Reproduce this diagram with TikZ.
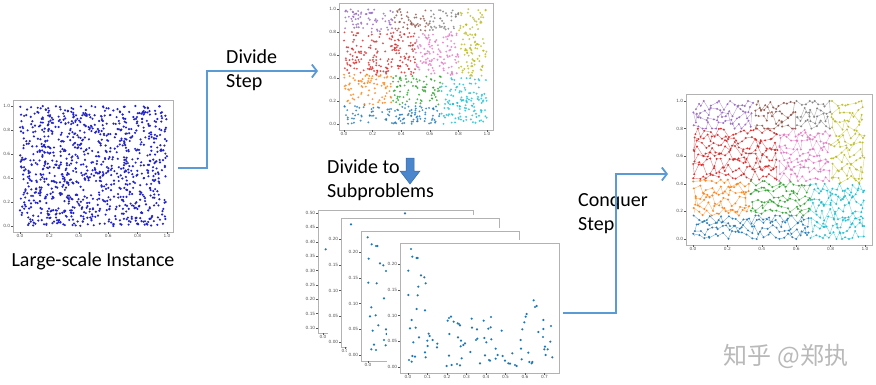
\documentclass[tikz,border=0pt]{standalone}
\usepackage{fontspec}
\setmainfont{Carlito}
\newfontfamily\tickfont{DejaVu Sans}
\newfontfamily\cjkfont{Noto Sans CJK SC}
\usetikzlibrary{arrows.meta}
\definecolor{flowblue}{RGB}{91,155,213}
\definecolor{blockblue}{RGB}{74,134,204}
\definecolor{blockedge}{RGB}{55,105,165}
\definecolor{framegray}{RGB}{178,178,178}
\definecolor{tickgray}{RGB}{85,85,85}
\definecolor{dotblue}{RGB}{35,35,200}
\definecolor{tabblue}{HTML}{1F77B4}
\definecolor{taborange}{HTML}{FF7F0E}
\definecolor{tabgreen}{HTML}{2CA02C}
\definecolor{tabred}{HTML}{D62728}
\definecolor{tabpurple}{HTML}{9467BD}
\definecolor{tabbrown}{HTML}{8C564B}
\definecolor{tabpink}{HTML}{E377C2}
\definecolor{tabgray}{HTML}{7F7F7F}
\definecolor{tabolive}{HTML}{BCBD22}
\definecolor{tabcyan}{HTML}{17BECF}
\definecolor{wmgray}{RGB}{185,185,185}

% dots of one cluster: color, x0, x1, y0, y1, count
\newcommand\clusterdots[6]{%
  \foreach \ii in {1,...,#6} {\fill[#1, fill opacity=0.8] ({#2+(#3-#2)*rnd},{#4+(#5-#4)*rnd}) circle (1.05pt);}}
% snake tour of one cluster: color, x0, x1, y0, y1, rows, points per row
\newcommand\clustertour[7]{%
  \draw[#1, line width=0.4pt, draw opacity=0.6] ({#2+0.01},{#4+0.5*(#5-#4)/#6})
   \foreach \ii in {1,...,#6} { \foreach \jj in {1,...,#7} {
     -- ({#2+(#3-#2)*(mod(\ii,2)*(\jj-1+rnd)+(1-mod(\ii,2))*(#7-\jj+rnd))/#7},{max(#4,min(#5,#4+(#5-#4)*(\ii-1.4+1.8*rnd)/#6))}) node[tourdot] (#1-\ii-\jj) {} } };}

\begin{document}
\begin{tikzpicture}[x=1pt,y=-1pt,
  plotframe/.style={draw=framegray, line width=0.8pt, inner sep=0pt, outer sep=0pt, rectangle},
  ticklab/.style={font=\tickfont\fontsize{4.3}{5}\selectfont, text=tickgray, inner sep=0.6pt},
  tickmark/.style={draw=tickgray, line width=0.35pt},
  lbl/.style={font=\fontsize{20}{24}\selectfont, align=left, inner sep=0pt},
  flow/.style={draw=flowblue, line width=1.8pt, -{Straight Barb[length=5pt,width=13pt]}},
  tourdot/.style={circle, fill, fill opacity=0.9, inner sep=0pt, minimum size=2.2pt},
  subdot/.style={fill=tabblue},
]
\useasboundingbox (0,0) rectangle (876,384);
\fill[white] (0,0) rectangle (876,384);

% ---------- left plot: large-scale instance ----------
\begin{scope}[shift={(20,226)}, x=147pt, y=120pt]
  \pgfmathsetseed{7}
  \foreach \i in {1,...,1000} {\fill[dotblue] ({rnd},{rnd}) circle (1.2pt);}
\end{scope}
\node[plotframe, minimum width=160pt, minimum height=132pt] (leftplot) at (93,166) {};
\foreach \v [count=\k] in {0.0,0.2,0.4,0.6,0.8,1.0} {
  \draw[tickmark] (13,{226-120*\v}) -- ++(-2,0) node[ticklab,anchor=east] (ly\k) {\v};
  \draw[tickmark] ({20+147*\v},232) -- ++(0,2) node[ticklab,anchor=north] (lx\k) {\v};
}
\node[lbl, anchor=base] (lbl1) at (93,266) {Large-scale Instance};

% ---------- top plot: divided ----------
\begin{scope}[shift={(344,124)}, x=143pt, y=115pt]
  \pgfmathsetseed{21}
  \clusterdots{tabblue}{0}{0.68}{0}{0.17}{116}
  \clusterdots{tabcyan}{0.68}{1}{0}{0.4}{128}
  \clusterdots{taborange}{0}{0.33}{0.17}{0.43}{86}
  \clusterdots{tabgreen}{0.33}{0.68}{0.17}{0.42}{84}
  \clusterdots{tabred}{0}{0.5}{0.43}{0.8}{185}
  \clusterdots{tabpink}{0.5}{0.8}{0.42}{0.8}{114}
  \clusterdots{tabolive}{0.8}{1}{0.4}{1}{110}
  \clusterdots{tabpurple}{0}{0.35}{0.8}{1}{70}
  \clusterdots{tabbrown}{0.35}{0.6}{0.8}{1}{50}
  \clusterdots{tabgray}{0.6}{0.8}{0.8}{1}{40}
\end{scope}
\node[plotframe, minimum width=154pt, minimum height=127pt] (topplot) at (416,66.5) {};
\foreach \v [count=\k] in {0.0,0.2,0.4,0.6,0.8,1.0} {
  \draw[tickmark] (339,{124-115*\v}) -- ++(-2,0) node[ticklab,anchor=east] (ty\k) {\v};
  \draw[tickmark] ({344+143*\v},130) -- ++(0,2) node[ticklab,anchor=north] (tx\k) {\v};
}

% ---------- right plot: conquered tours ----------
\begin{scope}[shift={(693,239)}, x=172pt, y=138pt]
  \pgfmathsetseed{5}
  \clustertour{tabblue}{0}{0.68}{0}{0.17}{4}{29}
  \clustertour{tabcyan}{0.68}{1}{0}{0.4}{8}{16}
  \clustertour{taborange}{0}{0.33}{0.17}{0.43}{6}{14}
  \clustertour{tabgreen}{0.33}{0.68}{0.17}{0.42}{6}{14}
  \clustertour{tabred}{0}{0.5}{0.43}{0.8}{8}{23}
  \clustertour{tabpink}{0.5}{0.8}{0.42}{0.8}{8}{14}
  \clustertour{tabolive}{0.8}{1}{0.4}{1}{12}{8}
  \clustertour{tabpurple}{0}{0.35}{0.8}{1}{4}{17}
  \clustertour{tabbrown}{0.35}{0.6}{0.8}{1}{4}{12}
  \clustertour{tabgray}{0.6}{0.8}{0.8}{1}{4}{10}
\end{scope}
\node[plotframe, minimum width=186pt, minimum height=151pt] (rightplot) at (779,169.5) {};
\foreach \v [count=\k] in {0.0,0.2,0.4,0.6,0.8,1.0} {
  \draw[tickmark] (686,{239-138*\v}) -- ++(-2,0) node[ticklab,anchor=east] (ry\k) {\v};
  \draw[tickmark] ({693+172*\v},245) -- ++(0,2) node[ticklab,anchor=north] (rx\k) {\v};
}

% ---------- stack of subproblems ----------
% sheet 1
\fill[white] (303,207) rectangle (476,345);
\node[plotframe, minimum width=155pt, minimum height=123pt] (sub1) at (395.5,271.5) {};
\foreach \v [count=\k] in {0.10,0.15,0.20,0.25,0.30,0.35,0.40,0.45,0.50} {
  \draw[tickmark] (318,{356.75-287.5*\v}) -- ++(-2,0) node[ticklab,anchor=east] (s1y\k) {\v};
}
\draw[tickmark] (323,333) -- ++(0,2) node[ticklab,anchor=north] (s1x1) {0.0};
\begin{scope}[shift={(290,200)}, x=0.3333pt, y=-0.3333pt]
  \foreach \p in {(107,148),(345,40)} {\fill[subdot] \p circle (1.2pt);}
\end{scope}
% sheet 2
\fill[white] (328,215) rectangle (502,359);
\node[plotframe, minimum width=158pt, minimum height=129pt] (sub2) at (420,282.5) {};
\foreach \v [count=\k] in {0.00,0.05,0.10,0.15,0.20} {
  \draw[tickmark] (341,{342-515*\v}) -- ++(-2,0) node[ticklab,anchor=east] (s2y\k) {\v};
}
\draw[tickmark] (345,347) -- ++(0,2) node[ticklab,anchor=north] (s2x1) {0.0};
\begin{scope}[shift={(290,200)}, x=0.3333pt, y=-0.3333pt]
  \foreach \p in {(183,73)} {\fill[subdot] \p circle (1.2pt);}
\end{scope}
% sheet 3
\fill[white] (347,228) rectangle (522,373);
\node[plotframe, minimum width=158pt, minimum height=130pt] (sub3) at (440,296) {};
\foreach \v [count=\k] in {0.00,0.05,0.10,0.15,0.20} {
  \draw[tickmark] (361,{355-515*\v}) -- ++(-2,0) node[ticklab,anchor=east] (s3y\k) {\v};
}
\draw[tickmark] (368,361) -- ++(0,2) node[ticklab,anchor=north] (s3x1) {0.0};
\begin{scope}[shift={(290,200)}, x=0.3333pt, y=-0.3333pt]
  \foreach \p in {(233,112),(245,133),(258,138),(262,138),(236,176),(270,190),(280,196),(288,213),(235,248),(260,250),(282,295),(244,322),(240,349),(257,346),(265,376),(248,392),(288,388),(290,402),(282,420),(287,436),(252,434),(244,448),(258,450)} {\fill[subdot] \p circle (1.2pt);}
\end{scope}
% sheet 4 (front)
\fill[white] (387,240) rectangle (562,384);
\node[plotframe, minimum width=159pt, minimum height=130pt] (sub4) at (479.5,308) {};
\foreach \v [count=\k] in {0.00,0.05,0.10,0.15,0.20} {
  \draw[tickmark] (400,{367-514*\v}) -- ++(-2,0) node[ticklab,anchor=east] (s4y\k) {\v};
}
\foreach \v [count=\k] in {0.0,0.1,0.2,0.3,0.4,0.5,0.6,0.7} {
  \draw[tickmark] ({408+195*\v},373) -- ++(0,2) node[ticklab,anchor=north] (s4x\k) {\v};
}
\begin{scope}[shift={(395,240)}, x=0.3333pt, y=-0.3333pt]
  \foreach \p in {(48,27),(52,50),(65,54),(68,54),(40,92),(78,106),(88,112),(70,140),(40,165),(68,166),(92,130),(65,207),(90,211),(50,240),(45,265),(62,263),(72,292),(55,307),(52,348),(60,350),(50,365),(42,360),(90,337),(92,352),(98,318),(97,302),(101,281),(104,288),(113,300),(127,311),(126,322),(155,378),(170,375),(158,242),(162,234),(168,230),(176,245),(163,282),(162,347),(188,250),(192,252),(195,256),(189,292),(198,302),(197,319),(205,315),(210,310),(186,372),(195,376),(200,355),(230,236),(231,263),(246,268),(247,296),(243,300),(226,336),(255,370),(266,242),(268,294),(274,307),(280,266),(288,231),(287,262),(289,298),(270,346),(285,362),(282,360),(302,356),(308,345),(302,326),(320,272),(323,348),(330,362),(340,370),(345,371),(352,340),(360,375),(365,378),(377,300),(382,268),(380,358),(378,326),(388,247),(392,230),(395,222),(400,338),(403,366),(410,370),(412,366),(416,181),(425,198),(420,201),(430,276),(444,291),(445,267),(445,240),(448,328),(450,320),(452,345),(458,328),(466,305),(468,258),(472,352)} {\fill[subdot] \p circle (1.2pt);}
\end{scope}

% ---------- labels ----------
\node[lbl, anchor=north west] (divstep) at (226,49) {Divide\\Step};
\node[lbl, anchor=north west] (divsub) at (327,159) {Divide to\\Subproblems};
\node[lbl, anchor=north west] (conq) at (578,193) {Conquer\\Step};

% ---------- connectors ----------
\coordinate (a1s) at (178,168);
\coordinate (a1m) at (207,71);
\coordinate (a1e) at (318,71);
\draw[flow] (a1s) -| (a1m) -- (a1e);
\coordinate (a2s) at (563,313);
\coordinate (a2m) at (616,174);
\coordinate (a2e) at (668,174);
\draw[flow] (a2s) -| (a2m) -- (a2e);
\filldraw[fill=blockblue, draw=blockedge, line width=0.5pt]
  (406,158) -- (414,158) -- (414,171) -- (420,171) -- (410,184) -- (400,171) -- (406,171) -- cycle;

% ---------- watermark ----------
\node[font=\cjkfont\fontsize{24}{28}\selectfont, text=wmgray, inner sep=0pt] (wm) at (786,356) {知乎 @郑执};
\end{tikzpicture}
\end{document}
